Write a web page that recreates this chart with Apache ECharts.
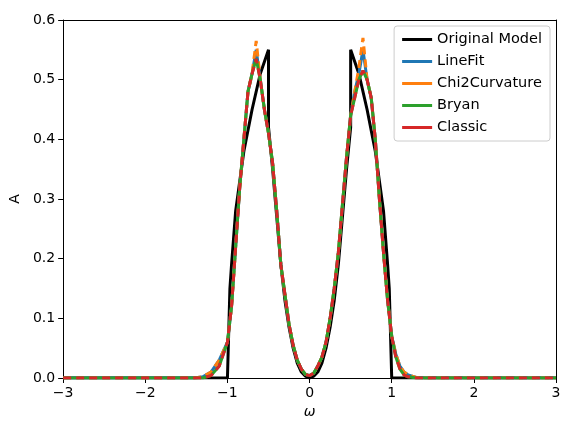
<!DOCTYPE html>
<html><head><meta charset="utf-8">
<script src="https://cdn.jsdelivr.net/npm/echarts@6/dist/echarts.min.js"></script>
<style>html,body{margin:0;padding:0;background:#fff}#c{width:576px;height:432px}</style>
</head><body><div id="c"></div>
<script>
var omega = [-3,-1.4,-1.3,-1.2,-1.1,-1.0,-0.95,-0.9,-0.85,-0.8,-0.75,-0.7,-0.65,-0.6,-0.55,-0.5,-0.45,-0.4,-0.35,-0.3,-0.25,-0.2,-0.15,-0.1,-0.05,0,
  0.05,0.1,0.15,0.2,0.25,0.3,0.35,0.4,0.45,0.5,0.55,0.6,0.65,0.7,0.75,0.8,0.85,0.9,0.95,1.0,1.05,1.1,1.15,1.2,1.3,1.4,3];
var lineFit = [0,0,0.002,0.01,0.03,0.06,0.12,0.22,0.32,0.40,0.48,0.51,0.55,0.50,0.45,0.41,0.36,0.28,0.19,0.14,0.09,0.055,0.03,0.015,0.006,0.004,
  0.008,0.02,0.035,0.06,0.1,0.15,0.21,0.29,0.37,0.44,0.48,0.51,0.55,0.50,0.47,0.40,0.30,0.21,0.13,0.07,0.04,0.02,0.01,0.005,0.001,0,0];
var chi2 = [0,0,0.002,0.01,0.03,0.06,0.12,0.22,0.32,0.40,0.48,0.51,0.565,0.50,0.45,0.41,0.36,0.28,0.19,0.14,0.09,0.055,0.03,0.015,0.006,0.004,
  0.008,0.02,0.035,0.06,0.1,0.15,0.21,0.29,0.37,0.44,0.48,0.52,0.57,0.50,0.47,0.40,0.30,0.21,0.13,0.07,0.04,0.02,0.01,0.005,0.001,0,0];
var bryan = [0,0,0,0.004,0.02,0.06,0.12,0.22,0.32,0.40,0.48,0.51,0.535,0.50,0.45,0.41,0.36,0.28,0.19,0.14,0.09,0.055,0.03,0.015,0.006,0.004,
  0.008,0.02,0.035,0.06,0.1,0.15,0.21,0.29,0.37,0.44,0.47,0.50,0.515,0.50,0.47,0.40,0.30,0.21,0.13,0.07,0.035,0.015,0.005,0.002,0,0,0];
var classic = bryan.slice();
var modelX = [-3,-1.0,-1.0,-0.97,-0.95,-0.9,-0.8,-0.7,-0.6,-0.5,-0.5,-0.45,-0.4,-0.35,-0.3,-0.25,-0.2,-0.15,-0.1,-0.05,0,
  0.05,0.1,0.15,0.2,0.25,0.3,0.35,0.4,0.45,0.5,0.5,0.6,0.7,0.8,0.9,0.95,0.97,1.0,1.0,3];
var modelY = [0,0,0.0,0.15,0.19,0.28,0.38,0.45,0.51,0.55,0.42,0.35,0.27,0.19,0.13,0.085,0.05,0.025,0.01,0.003,0,
  0.003,0.01,0.025,0.05,0.085,0.13,0.19,0.27,0.35,0.42,0.55,0.51,0.45,0.38,0.28,0.19,0.15,0.0,0,0];

function pairs(xs, ys){ return xs.map(function(x,i){ return [x, ys[i]]; }); }

var chart = echarts.init(document.getElementById('c'));
var fam = 'DejaVu Sans';
var lbl = {fontFamily:fam,fontSize:14,color:'#000'};
chart.setOption({
  animation:false,
  grid:{left:62,right:20,top:20,bottom:54},
  legend:{
    right:26, top:26, orient:'vertical', itemGap:7, itemWidth:30, itemHeight:3, icon:'rect',
    backgroundColor:'#fff', borderColor:'#ccc', borderWidth:1, borderRadius:3, padding:[6,8],
    textStyle:{fontFamily:fam,fontSize:14.5,color:'#000'},
    data:['Original Model','LineFit','Chi2Curvature','Bryan','Classic']
  },
  xAxis:[{type:'value',min:-3,max:3,interval:1,
    name:'ω',nameLocation:'middle',nameGap:24,nameTextStyle:{fontFamily:fam,fontSize:14,fontStyle:'italic',color:'#000'},
    axisLine:{onZero:false,lineStyle:{color:'#000'}},axisTick:{lineStyle:{color:'#000'}},
    axisLabel:Object.assign({formatter:function(v){return v<0?'\u2212'+(-v):''+v;}},lbl),
    splitLine:{show:false}},
    {type:'value',min:-3,max:3,position:'top',axisLine:{onZero:false,lineStyle:{color:'#000'}},axisTick:{show:false},axisLabel:{show:false},splitLine:{show:false}}],
  yAxis:[{type:'value',min:0,max:0.6,interval:0.1,
    name:'A',nameLocation:'middle',nameGap:38,nameTextStyle:{fontFamily:fam,fontSize:14,color:'#000'},
    axisLine:{show:true,onZero:false,lineStyle:{color:'#000'}},axisTick:{show:true,lineStyle:{color:'#000'}},
    axisLabel:Object.assign({formatter:function(v){return v.toFixed(1);}},lbl),
    splitLine:{show:false}},
    {type:'value',min:0,max:0.6,position:'right',axisLine:{show:true,onZero:false,lineStyle:{color:'#000'}},axisTick:{show:false},axisLabel:{show:false},splitLine:{show:false}}],
  series:[
    {name:'Original Model',type:'line',data:pairs(modelX,modelY),showSymbol:false,itemStyle:{color:'#000'},lineStyle:{color:'#000',width:3}},
    {name:'LineFit',type:'line',data:pairs(omega,lineFit),showSymbol:false,itemStyle:{color:'#1f77b4'},lineStyle:{color:'#1f77b4',width:3}},
    {name:'Chi2Curvature',type:'line',data:pairs(omega,chi2),showSymbol:false,itemStyle:{color:'#ff7f0e'},lineStyle:{color:'#ff7f0e',width:3,type:[8,5]}},
    {name:'Bryan',type:'line',data:pairs(omega,bryan),showSymbol:false,itemStyle:{color:'#2ca02c'},lineStyle:{color:'#2ca02c',width:3}},
    {name:'Classic',type:'line',data:pairs(omega,classic),showSymbol:false,itemStyle:{color:'#d62728'},lineStyle:{color:'#d62728',width:3,type:[8,5]}}
  ]
});
</script></body></html>
